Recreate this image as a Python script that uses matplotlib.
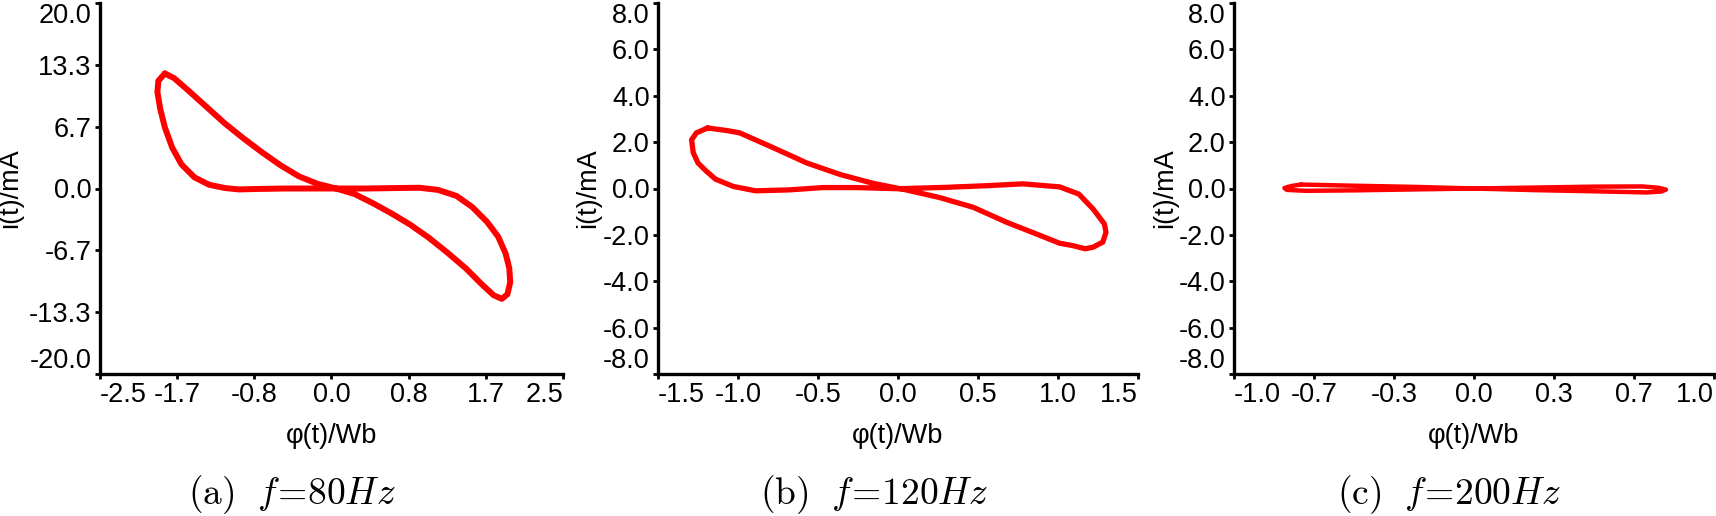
import numpy as np
import matplotlib
matplotlib.use("Agg")
import matplotlib.pyplot as plt

plt.rcParams['font.family'] = ['Liberation Sans', 'DejaVu Sans']
plt.rcParams['mathtext.fontset'] = 'cm'

# ---------------- data ----------------
# (a) f = 80 Hz
phi_a = [-1.80, -1.70, -1.55, -1.35, -1.15, -0.95, -0.75, -0.55, -0.35, -0.15,
         0.05, 0.25, 0.45, 0.65, 0.85, 1.05, 1.25, 1.45, 1.62, 1.75,
         1.84, 1.90, 1.93, 1.92, 1.88, 1.80, 1.68, 1.52, 1.35, 1.15,
         0.95, 0.70, 0.40, 0.10, -0.20, -0.50, -0.80, -1.00, -1.15, -1.32,
         -1.48, -1.62, -1.72, -1.80, -1.85, -1.88, -1.87, -1.80]
i_a = [12.4, 11.9, 10.6, 8.8, 7.0, 5.4, 3.9, 2.5, 1.3, 0.5,
       0.0, -0.6, -1.6, -2.7, -3.9, -5.3, -6.9, -8.6, -10.3, -11.5,
       -11.9, -11.4, -10.1, -8.6, -7.0, -5.2, -3.6, -2.0, -0.8, -0.15,
       0.08, 0.05, 0.0, 0.0, 0.0, 0.0, -0.05, -0.1, 0.05, 0.4,
       1.2, 2.6, 4.4, 6.6, 8.6, 10.4, 11.6, 12.4]

# (b) f = 120 Hz
phi_b = [-1.19, -1.07, -0.99, -0.78, -0.57, -0.36, -0.16, 0.05, 0.26, 0.47,
         0.68, 0.89, 1.01, 1.09, 1.17, 1.22, 1.28, 1.30, 1.29, 1.22,
         1.13, 1.01, 0.78, 0.55, 0.30, 0.00, -0.26, -0.47, -0.68, -0.89,
         -1.03, -1.14, -1.20, -1.25, -1.28, -1.29, -1.26, -1.19]
i_b = [2.61, 2.50, 2.40, 1.76, 1.10, 0.60, 0.23, -0.06, -0.39, -0.81,
       -1.46, -2.03, -2.36, -2.46, -2.60, -2.53, -2.31, -1.89, -1.53, -0.89,
       -0.24, 0.07, 0.20, 0.12, 0.05, -0.01, 0.04, 0.04, -0.06, -0.10,
       0.09, 0.40, 0.76, 1.10, 1.55, 2.10, 2.40, 2.61]

# (c) f = 200 Hz
phi_c = [-0.72, -0.50, -0.25, 0.00, 0.25, 0.50, 0.72, 0.78, 0.80, 0.77,
         0.70, 0.50, 0.25, 0.00, -0.25, -0.50, -0.70, -0.78, -0.79, -0.76, -0.72]
i_c = [0.17, 0.12, 0.07, 0.00, -0.07, -0.12, -0.17, -0.13, -0.05, 0.03,
       0.09, 0.08, 0.04, 0.00, -0.04, -0.08, -0.10, -0.06, 0.02, 0.11, 0.17]

xtick_labels_a = ['-2.5', '-1.7', '-0.8', '0.0', '0.8', '1.7', '2.5']
ytick_labels_a = ['-20.0', '-13.3', '-6.7', '0.0', '6.7', '13.3', '20.0']
xtick_labels_b = ['-1.5', '-1.0', '-0.5', '0.0', '0.5', '1.0', '1.5']
ytick_labels_b = ['-8.0', '-6.0', '-4.0', '-2.0', '0.0', '2.0', '4.0', '6.0', '8.0']
xtick_labels_c = ['-1.0', '-0.7', '-0.3', '0.0', '0.3', '0.7', '1.0']
ytick_labels_c = ['-8.0', '-6.0', '-4.0', '-2.0', '0.0', '2.0', '4.0', '6.0', '8.0']

captions = [r'$\mathrm{(a)}\ \ f\!=\!80Hz$',
            r'$\mathrm{(b)}\ \ f\!=\!120Hz$',
            r'$\mathrm{(c)}\ \ f\!=\!200Hz$']

# ---------------- layout ----------------
W, H = 1716, 516
fig = plt.figure(figsize=(W / 100, H / 100), dpi=100)

panels = [
    dict(px=(100, 563), phi=phi_a, cur=i_a, xlim=2.5, ylim=20.0,
         xl=xtick_labels_a, yl=ytick_labels_a, lw=4.3, ylab_off=90, cap_x=292),
    dict(px=(658, 1138), phi=phi_b, cur=i_b, xlim=1.5, ylim=8.0,
         xl=xtick_labels_b, yl=ytick_labels_b, lw=3.8, ylab_off=70, cap_x=874),
    dict(px=(1234, 1714), phi=phi_c, cur=i_c, xlim=1.0, ylim=8.0,
         xl=xtick_labels_c, yl=ytick_labels_c, lw=3.2, ylab_off=69, cap_x=1449),
]

top_px, bot_px = 3, 374
fs = 19.5

for k, p in enumerate(panels):
    x0, x1 = p['px']
    ax = fig.add_axes([x0 / W, (H - bot_px) / H, (x1 - x0) / W, (bot_px - top_px) / H])
    ax.plot(p['phi'], p['cur'], color='#ff0000', lw=p['lw'],
            solid_joinstyle='round', solid_capstyle='round')
    ax.set_xlim(-p['xlim'], p['xlim'])
    ax.set_ylim(-p['ylim'], p['ylim'])
    ax.set_xticks(np.linspace(-p['xlim'], p['xlim'], len(p['xl'])))
    ax.set_yticks(np.linspace(-p['ylim'], p['ylim'], len(p['yl'])))
    ax.set_xticklabels(p['xl'], fontsize=fs)
    ax.set_yticklabels(p['yl'], fontsize=fs)
    xt = ax.get_xticklabels()
    xt[0].set_ha('left')
    xt[-1].set_ha('right')
    yt = ax.get_yticklabels()
    yt[0].set_va('bottom')
    yt[-1].set_va('top')
    for s in ['top', 'right']:
        ax.spines[s].set_visible(False)
    for s in ['left', 'bottom']:
        ax.spines[s].set_linewidth(2.4)
        ax.spines[s].set_color('black')
    ax.tick_params(direction='out', length=3.5, width=2.0, pad=2.5, colors='black')
    ax.set_xlabel('φ(t)/Wb', fontsize=fs, va='center')
    ax.xaxis.set_label_coords(0.5, -62 / (bot_px - top_px))
    ax.set_ylabel('i(t)/mA', fontsize=fs, va='center')
    ax.yaxis.set_label_coords(-p['ylab_off'] / (x1 - x0), 0.5)
    fig.text(p['cap_x'] / W, 1 - 495 / H, captions[k],
             fontsize=27, ha='center', va='center')

fig.savefig('out.png', dpi=100)
